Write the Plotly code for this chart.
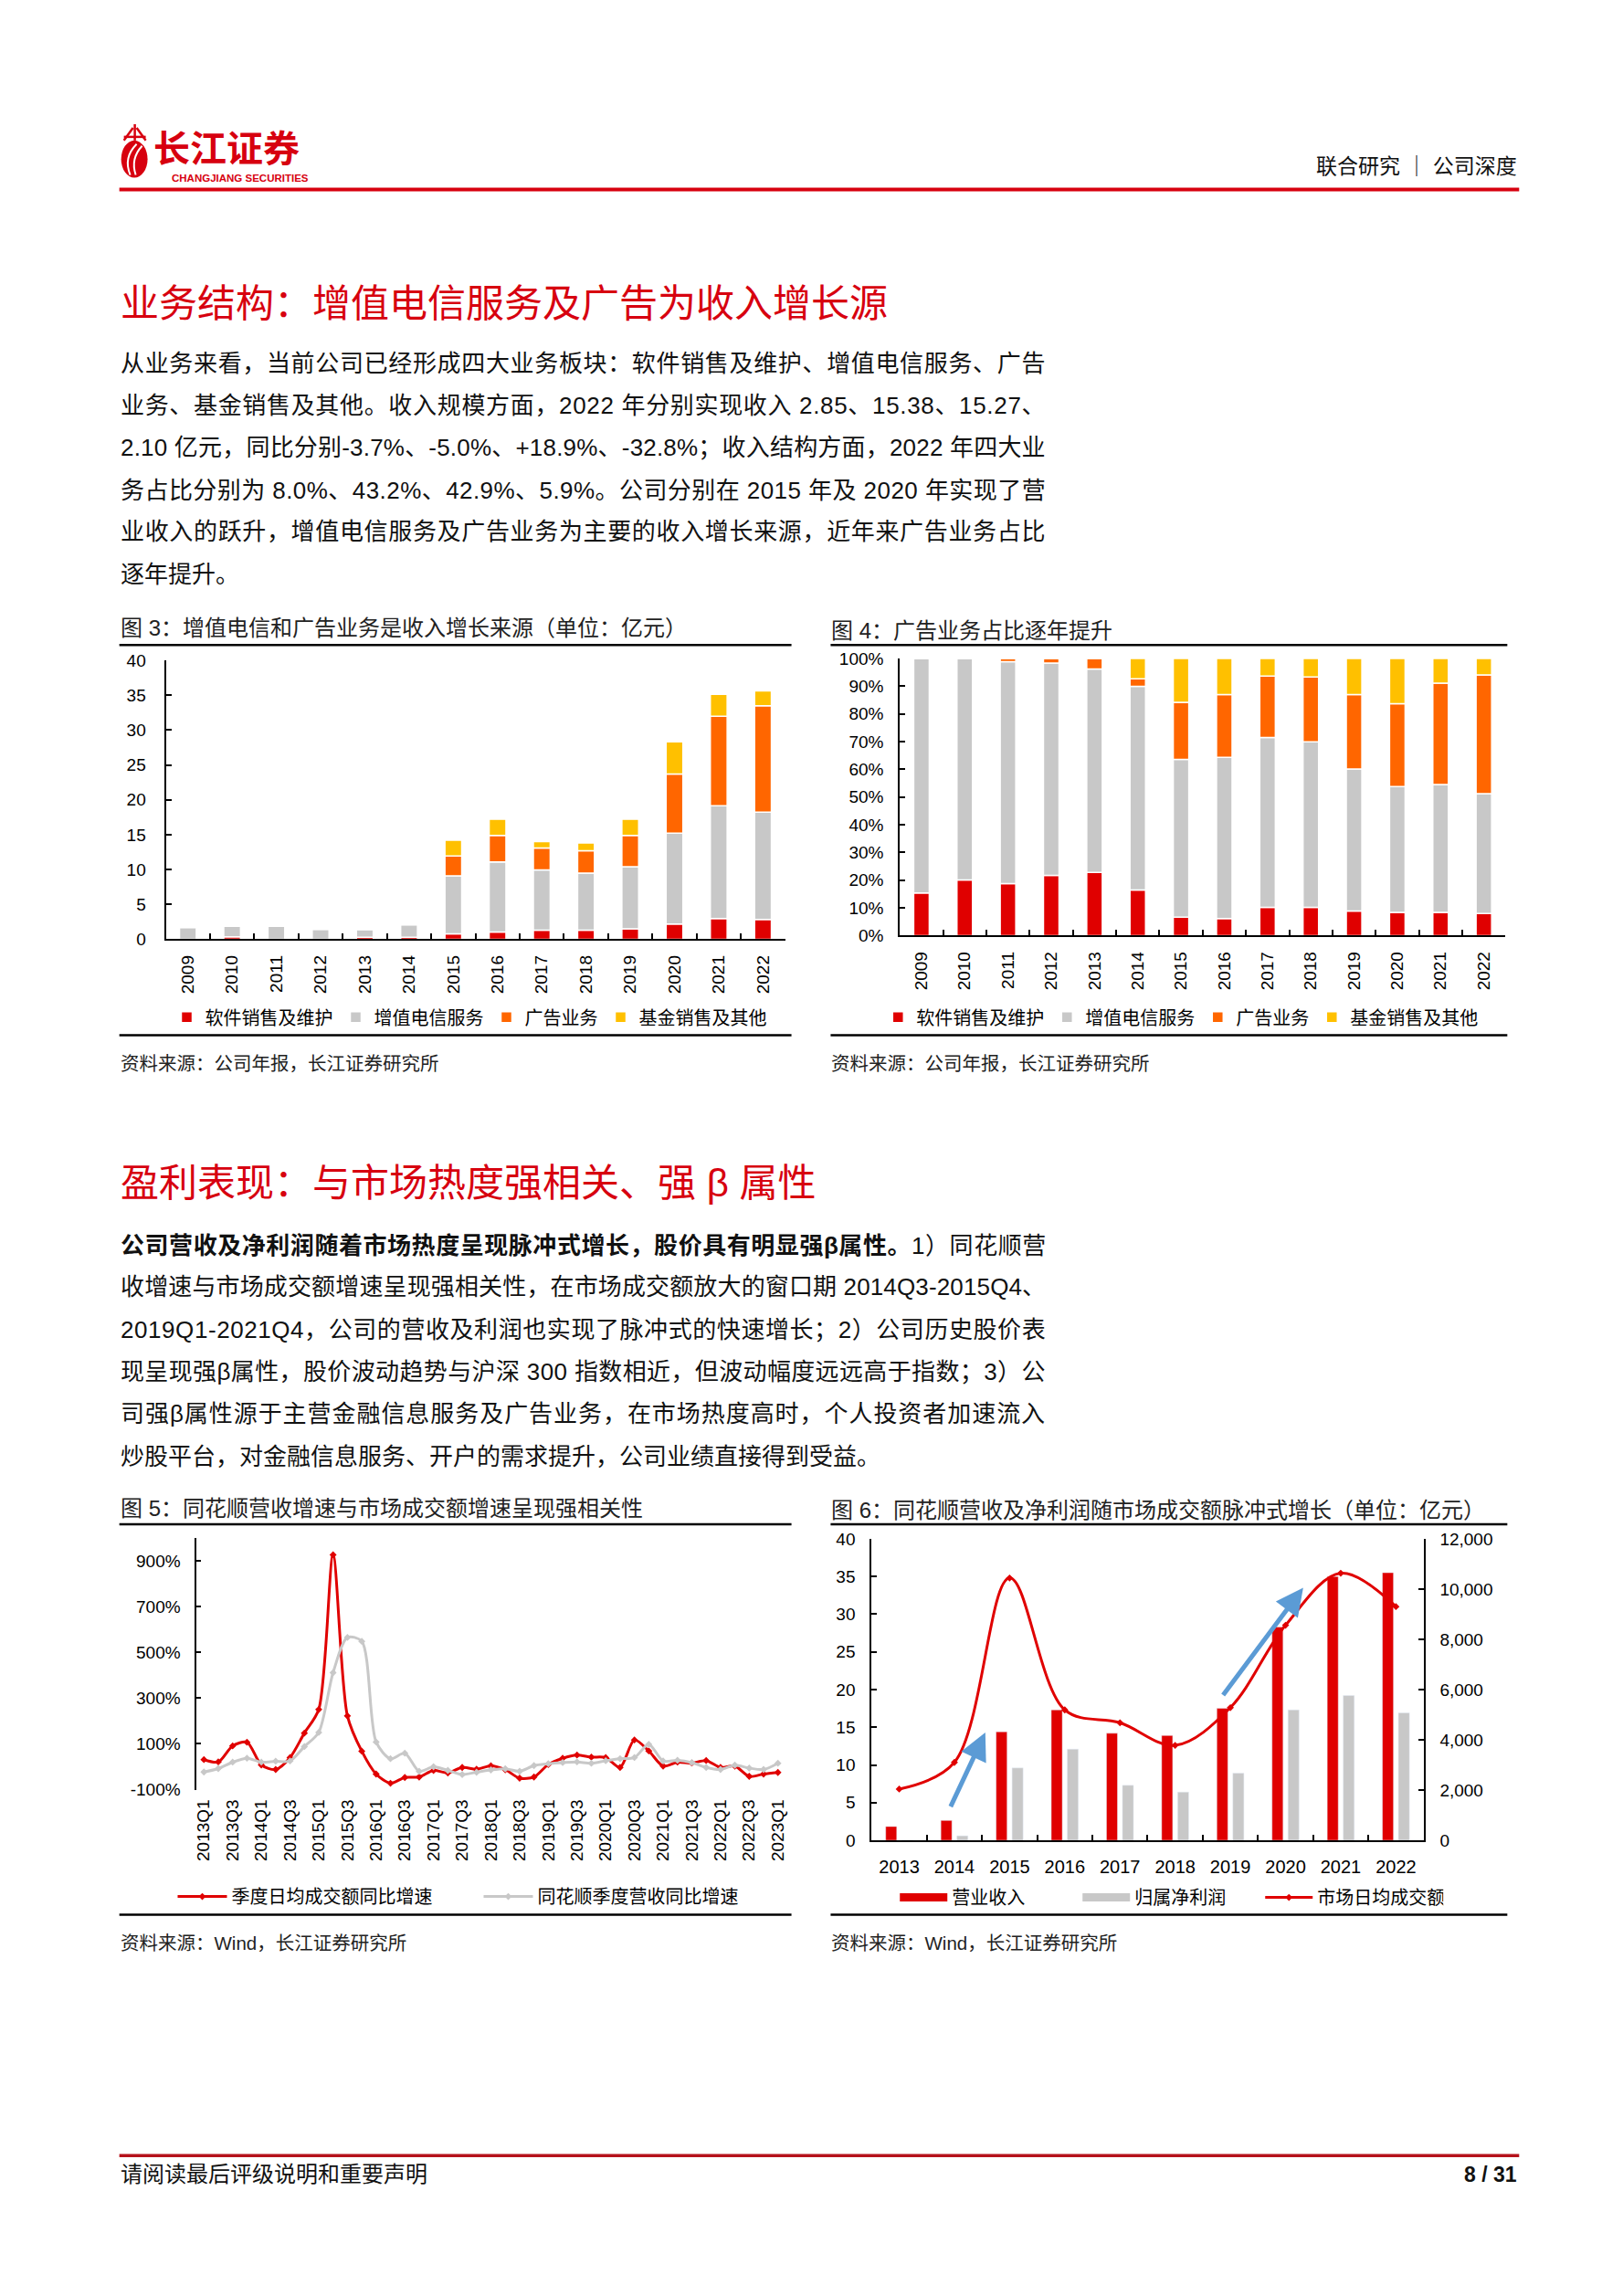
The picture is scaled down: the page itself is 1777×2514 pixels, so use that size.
import plotly.graph_objects as go

# page is 1777x2514; the browser body keeps an 8px margin, so the figure is 16px smaller
PW, PH = 1777, 2514
W, H = PW - 16, PH - 16
def fx(x): return (x - 8) / W
def fy(y): return 1 - (y - 8) / H

FONT = "Liberation Sans, Arial, Noto Sans CJK SC, sans-serif"
RED = "#e00000"; GREY = "#c8c8c8"; ORANGE = "#ff6600"; YELLOW = "#ffc000"
TITLE_RED = "#d7000f"; BLUE = "#5b9bd5"

# ---------------- data ----------------
years3 = ["2009", "2010", "2011", "2012", "2013", "2014", "2015", "2016", "2017", "2018", "2019", "2020", "2021", "2022"]
sw3   = [0.0, 0.35, 0.0, 0.0, 0.30, 0.30, 0.78, 1.04, 1.30, 1.30, 1.50, 2.20, 2.96, 2.85]
vas3  = [1.70, 1.55, 1.90, 1.43, 1.10, 1.80, 8.32, 10.04, 8.66, 8.20, 8.90, 13.00, 16.19, 15.38]
ad3   = [0.0, 0.0, 0.0, 0.0, 0.03, 0.0, 2.85, 3.82, 3.14, 3.20, 4.50, 8.50, 12.84, 15.27]
fund3 = [0.0, 0.0, 0.0, 0.0, 0.0, 0.0, 2.25, 2.30, 0.90, 1.10, 2.30, 4.60, 3.13, 2.10]

sw4   = [15.4, 20.1, 18.8, 21.7, 22.8, 16.5, 6.7, 6.2, 10.2, 10.2, 8.9, 8.4, 8.4, 8.0]
vas4  = [84.6, 79.9, 80.1, 76.7, 73.4, 73.5, 56.9, 58.1, 61.3, 59.7, 51.2, 45.4, 46.1, 43.2]
ad4   = [0.0, 0.0, 1.1, 1.6, 3.8, 2.7, 20.6, 22.7, 22.2, 23.4, 26.9, 29.9, 36.6, 42.9]
fund4 = [0.0, 0.0, 0.0, 0.0, 0.0, 7.3, 15.8, 13.0, 6.3, 6.7, 13.0, 16.3, 8.9, 5.9]
seg_names = ["软件销售及维护", "增值电信服务", "广告业务", "基金销售及其他"]

quarters5 = ["2013Q1", "2013Q2", "2013Q3", "2013Q4", "2014Q1", "2014Q2", "2014Q3", "2014Q4",
             "2015Q1", "2015Q2", "2015Q3", "2015Q4", "2016Q1", "2016Q2", "2016Q3", "2016Q4",
             "2017Q1", "2017Q2", "2017Q3", "2017Q4", "2018Q1", "2018Q2", "2018Q3", "2018Q4",
             "2019Q1", "2019Q2", "2019Q3", "2019Q4", "2020Q1", "2020Q2", "2020Q3", "2020Q4",
             "2021Q1", "2021Q2", "2021Q3", "2021Q4", "2022Q1", "2022Q2", "2022Q3", "2022Q4", "2023Q1"]
turnover_yoy5 = [31, 21, 91, 107, 8, -12, 40, 147, 250, 926, 222, 68, -32, -72, -47, -45,
                 -16, -27, -3, -11, 4, -13, -50, -45, 10, 37, 51, 42, 40, -3, 117, 69,
                 3, 20, 16, 27, -3, 3, -42, -32, -25]
revenue_yoy5 = [-23, -8, 20, 37, 20, 24, 25, 88, 150, 411, 565, 548, 108, 35, 59, -20,
                0, -16, -34, -24, -14, -9, -20, 5, 13, 18, 21, 15, 26, 35, 40, 98,
                25, 28, 18, -3, -12, 7, -6, -12, 15]
xticks5 = ["2013Q1", "2013Q3", "2014Q1", "2014Q3", "2015Q1", "2015Q3", "2016Q1", "2016Q3",
           "2017Q1", "2017Q3", "2018Q1", "2018Q3", "2019Q1", "2019Q3", "2020Q1", "2020Q3",
           "2021Q1", "2021Q3", "2022Q1", "2022Q3", "2023Q1"]
yticks5 = [-100, 100, 300, 500, 700, 900]
yticktext5 = ["-100%", "100%", "300%", "500%", "700%", "900%"]

years6 = ["2013", "2014", "2015", "2016", "2017", "2018", "2019", "2020", "2021", "2022"]
revenue6 = [1.84, 2.64, 14.4, 17.3, 14.2, 13.9, 17.5, 28.3, 35.0, 35.5]
netprofit6 = [0.04, 0.6, 9.6, 12.1, 7.3, 6.4, 8.9, 17.3, 19.2, 16.9]
turnover6 = [2040, 3100, 10440, 5190, 4680, 3780, 5280, 8560, 10630, 9300]

para1 = ["从业务来看，当前公司已经形成四大业务板块：软件销售及维护、增值电信服务、广告",
         "业务、基金销售及其他。收入规模方面，2022 年分别实现收入 2.85、15.38、15.27、",
         "2.10 亿元，同比分别-3.7%、-5.0%、+18.9%、-32.8%；收入结构方面，2022 年四大业",
         "务占比分别为 8.0%、43.2%、42.9%、5.9%。公司分别在 2015 年及 2020 年实现了营",
         "业收入的跃升，增值电信服务及广告业务为主要的收入增长来源，近年来广告业务占比",
         "逐年提升。"]
para2_bold = "公司营收及净利润随着市场热度呈现脉冲式增长，股价具有明显强β属性。"
para2 = [para2_bold + "1）同花顺营",
         "收增速与市场成交额增速呈现强相关性，在市场成交额放大的窗口期 2014Q3-2015Q4、",
         "2019Q1-2021Q4，公司的营收及利润也实现了脉冲式的快速增长；2）公司历史股价表",
         "现呈现强β属性，股价波动趋势与沪深 300 指数相近，但波动幅度远远高于指数；3）公",
         "司强β属性源于主营金融信息服务及广告业务，在市场热度高时，个人投资者加速流入",
         "炒股平台，对金融信息服务、开户的需求提升，公司业绩直接得到受益。"]

# ---------------- figure ----------------
fig = go.Figure()

def cum_bases(series_list):
    bases, run = [], [0.0] * len(series_list[0])
    for s in series_list:
        bases.append(list(run))
        run = [a + b for a, b in zip(run, s)]
    return bases

colors4 = [RED, GREY, ORANGE, YELLOW]
s3 = [sw3, vas3, ad3, fund3]
for vals, base, name, col in zip(s3, cum_bases(s3), seg_names, colors4):
    fig.add_trace(go.Bar(x=years3, y=vals, base=base, name=name, width=0.38, offset=-0.19,
                         marker=dict(color=col, line=dict(color="white", width=1.5)),
                         xaxis="x", yaxis="y", legend="legend"))
s4 = [sw4, vas4, ad4, fund4]
for vals, base, name, col in zip(s4, cum_bases(s4), seg_names, colors4):
    fig.add_trace(go.Bar(x=years3, y=vals, base=base, name=name, width=0.36, offset=-0.18,
                         marker=dict(color=col, line=dict(color="white", width=1.5)),
                         xaxis="x2", yaxis="y2", legend="legend2"))

fig.add_trace(go.Scatter(x=quarters5, y=turnover_yoy5, name="季度日均成交额同比增速",
                         mode="lines+markers", line=dict(color=RED, width=3, shape="spline", smoothing=0.8),
                         marker=dict(symbol="diamond", size=6, color=RED),
                         xaxis="x3", yaxis="y3", legend="legend3"))
fig.add_trace(go.Scatter(x=quarters5, y=revenue_yoy5, name="同花顺季度营收同比增速",
                         mode="lines+markers", line=dict(color=GREY, width=3, shape="spline", smoothing=0.8),
                         marker=dict(symbol="diamond", size=6, color=GREY),
                         xaxis="x3", yaxis="y3", legend="legend3"))

fig.add_trace(go.Bar(x=years6, y=revenue6, name="营业收入", width=0.2, offset=-0.245,
                     marker=dict(color=RED), xaxis="x4", yaxis="y4", showlegend=False))
fig.add_trace(go.Bar(x=years6, y=netprofit6, name="归属净利润", width=0.2, offset=0.045,
                     marker=dict(color=GREY), xaxis="x4", yaxis="y4", showlegend=False))
fig.add_trace(go.Scatter(x=[None], y=[None], name="营业收入", mode="lines",
                         line=dict(color=RED, width=9), xaxis="x4", yaxis="y4", legend="legend4"))
fig.add_trace(go.Scatter(x=[None], y=[None], name="归属净利润", mode="lines",
                         line=dict(color=GREY, width=9), xaxis="x4", yaxis="y4", legend="legend4"))
fig.add_trace(go.Scatter(x=years6, y=turnover6, name="市场日均成交额", mode="lines+markers",
                         line=dict(color=RED, width=3, shape="spline", smoothing=1.0),
                         marker=dict(symbol="diamond", size=6, color=RED),
                         xaxis="x4", yaxis="y5", legend="legend4"))

# ---------------- axes ----------------
tf = dict(size=19, family=FONT, color="black")
ax = dict(showgrid=False, zeroline=False, showline=True, linecolor="black", linewidth=2,
          ticks="inside", tickcolor="black", tickwidth=1.5, ticklen=6, tickfont=tf, fixedrange=True)

layout = dict(
    width=W, height=H, autosize=False, margin=dict(l=0, r=0, t=0, b=0),
    paper_bgcolor="white", plot_bgcolor="white", barmode="overlay",
    font=dict(family=FONT, color="black"), showlegend=True,
    xaxis=dict(ax, domain=[fx(179), fx(859)], anchor="y", type="category", tickson="boundaries",
               tickangle=-90, range=[-0.5, 13.5], ticklabelstandoff=8),
    yaxis=dict(ax, domain=[fy(1027), fy(719)], anchor="x", range=[0, 40], dtick=5, ticklabelstandoff=16),
    xaxis2=dict(ax, domain=[fx(985), fx(1650)], anchor="y2", type="category", tickson="boundaries",
                tickangle=-90, range=[-0.5, 13.5], ticklabelstandoff=8),
    yaxis2=dict(ax, domain=[fy(1023), fy(717)], anchor="x2", range=[0, 100], dtick=10,
                ticksuffix="%", ticklabelstandoff=12),
    xaxis3=dict(ax, domain=[fx(213), fx(859)], anchor="y3", type="category", showline=False,
                ticks="", tickangle=-90, tickmode="array", tickvals=xticks5, range=[-0.5, 40.5],
                ticklabelstandoff=6),
    yaxis3=dict(ax, domain=[fy(1966), fy(1688)], anchor="x3", range=[-100, 1000],
                tickmode="array", tickvals=yticks5, ticktext=yticktext5,
                ticklen=5, ticklabelstandoff=12),
    xaxis6=dict(ax, overlaying="x3", anchor="free", position=fy(1940.7), type="linear",
                range=[-0.5, 40.5], tick0=-0.5, dtick=1, showticklabels=False, ticklen=5),
    xaxis4=dict(ax, domain=[fx(954), fx(1560)], anchor="y4", type="category", tickson="boundaries",
                range=[-0.5, 9.5], ticklabelstandoff=10, tickfont=dict(size=20, family=FONT, color="black")),
    yaxis4=dict(ax, domain=[fy(2022), fy(1689)], anchor="x4", range=[0, 40], dtick=5, ticklabelstandoff=12),
    yaxis5=dict(ax, overlaying="y4", anchor="x4", side="right", range=[0, 12000], dtick=2000,
                tickformat=",d", ticklabelstandoff=12),
)

lg = dict(orientation="h", xanchor="left", yanchor="middle", bgcolor="rgba(0,0,0,0)",
          font=dict(size=20, family=FONT, color="black"), traceorder="normal")
layout["legend"] = dict(lg, x=fx(182), y=fy(1113), itemwidth=30)
layout["legend2"] = dict(lg, x=fx(963), y=fy(1113), itemwidth=30)
layout["legend3"] = dict(lg, x=fx(187), y=fy(2084), itemwidth=54, entrywidth=266)
layout["legend4"] = dict(lg, x=fx(980), y=fy(2085), itemwidth=52, entrywidth=133)
fig.update_layout(**layout)

# ---------------- shapes ----------------
shapes = []
def hline(x0, x1, y, color="black", width=2.5):
    shapes.append(dict(type="line", xref="paper", yref="paper", x0=fx(x0), x1=fx(x1),
                       y0=fy(y), y1=fy(y), line=dict(color=color, width=width)))

hline(128, 1665, 199, TITLE_RED, 4)
hline(128, 1665, 2370, "#b5121b", 3.5)
for (a, b) in [(128, 866), (909, 1652)]:
    hline(a, b, 702); hline(a, b, 1133)
    hline(a, b, 1673); hline(a, b, 2104)

# logo mark
shapes.append(dict(type="circle", xref="paper", yref="paper", x0=fx(130), x1=fx(159),
                   y0=fy(186), y1=fy(145), fillcolor=TITLE_RED, line=dict(width=0)))
shapes.append(dict(type="path", xref="paper", yref="paper",
                   path=f"M {fx(140)},{fy(183)} Q {fx(132)},{fy(164)} {fx(147)},{fy(149)}",
                   line=dict(color="white", width=2)))
shapes.append(dict(type="path", xref="paper", yref="paper",
                   path=f"M {fx(146)},{fy(183)} Q {fx(140)},{fy(165)} {fx(153)},{fy(151)}",
                   line=dict(color="white", width=2)))
for (xa, xb, ya, yb) in [(133, 143, 145, 131), (145, 145, 145, 127), (157, 147, 145, 131), (133, 157, 141, 141)]:
    shapes.append(dict(type="line", xref="paper", yref="paper", x0=fx(xa), x1=fx(xb),
                       y0=fy(ya), y1=fy(yb), line=dict(color=TITLE_RED, width=2.5)))
fig.update_layout(shapes=shapes)

# ---------------- text ----------------
ann = []
def text(x, y, s, size, color="black", anchor="left", family=FONT):
    ann.append(dict(x=fx(x), y=fy(y), xref="paper", yref="paper", text=s, showarrow=False,
                    xanchor=anchor, yanchor="middle", font=dict(size=size, color=color, family=family)))

def em(ch):
    if "0" <= ch <= "9":
        return 0.556
    tbl = {".": 0.278, "%": 0.889, "-": 0.333, "+": 0.584, " ": 0.278, "Q": 0.778, "β": 0.576}
    return tbl.get(ch, 1.0)

def justified(line, size, width, bold_prefix=""):
    nat = sum(em(c) for c in line) * size
    ls = (width - nat) / len(line)
    body = line
    if bold_prefix and line.startswith(bold_prefix):
        body = "<b>" + bold_prefix + "</b>" + line[len(bold_prefix):]
    return f'<span style="letter-spacing:{ls:.2f}px">{body}</span>'

text(163, 151, "<b>长江证券</b>", 40, TITLE_RED, family="Noto Sans CJK SC")
text(183, 187, "<b>CHANGJIANG SECURITIES</b>", 11.5, TITLE_RED)
text(1665, 173, "联合研究 ｜ 公司深度", 23, "#111", anchor="right")

text(127, 325, "业务结构：增值电信服务及广告为收入增长源", 42, TITLE_RED)
para_y1 = [391, 438, 484, 531, 577, 624]
for i, (line, y) in enumerate(zip(para1, para_y1)):
    s = justified(line, 26, 1013) if i < len(para1) - 1 else line
    text(127, y, s, 26, "#111")

text(127, 1296, "盈利表现：与市场热度强相关、强 β 属性", 42, TITLE_RED)
para_y2 = [1365, 1411, 1458, 1505, 1551, 1598]
for i, (line, y) in enumerate(zip(para2, para_y2)):
    s = justified(line, 26, 1013, para2_bold) if i < len(para2) - 1 else line
    text(127, y, s, 26, "#111")

text(127, 683, "图 3：增值电信和广告业务是收入增长来源（单位：亿元）", 24, "#222")
text(908, 686, "图 4：广告业务占比逐年提升", 24, "#222")
text(127, 1655, "图 5：同花顺营收增速与市场成交额增速呈现强相关性", 24, "#222")
text(908, 1657, "图 6：同花顺营收及净利润随市场成交额脉冲式增长（单位：亿元）", 24, "#222")
text(127, 1164, "资料来源：公司年报，长江证券研究所", 20.5, "#222")
text(908, 1164, "资料来源：公司年报，长江证券研究所", 20.5, "#222")
text(127, 2135, "资料来源：Wind，长江证券研究所", 20.5, "#222")
text(908, 2135, "资料来源：Wind，长江证券研究所", 20.5, "#222")

text(127, 2391, "请阅读最后评级说明和重要声明", 24, "#111")
text(1665, 2391, "<b>8 / 31</b>", 23, "#111", anchor="right")

# blue trend arrows in chart 6 (data coordinates)
for (x0, y0, x1, y1) in [(0.92, 4.3, 1.56, 14.3), (5.85, 19.1, 7.32, 33.5)]:
    ann.append(dict(x=x1, y=y1, ax=x0, ay=y0, xref="x4", yref="y4", axref="x4", ayref="y4",
                    text="", showarrow=True, arrowhead=2, arrowsize=1.2, arrowwidth=5, arrowcolor=BLUE))

fig.update_layout(annotations=ann)

fig.write_html("out.html", config={"displayModeBar": False})
